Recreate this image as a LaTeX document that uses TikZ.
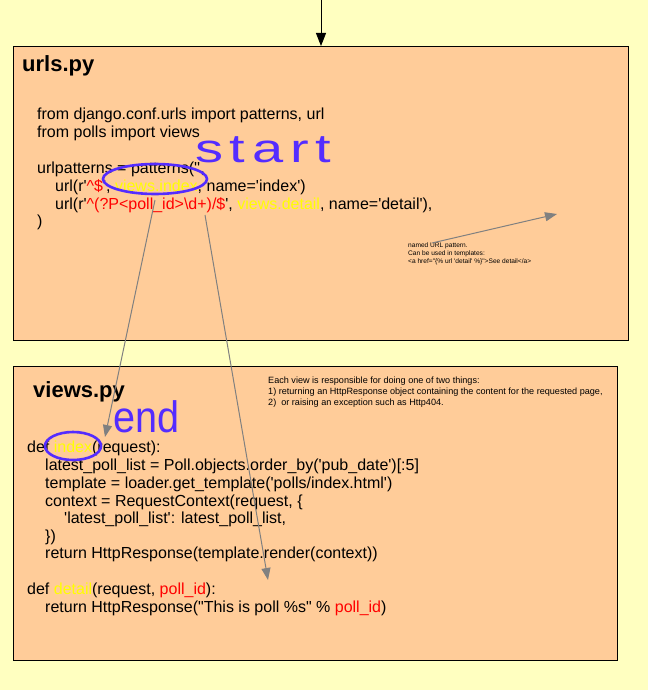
\documentclass[tikz,border=0pt]{standalone}
\usepackage{fontspec}
\usetikzlibrary{arrows.meta}
\newfontfamily\codefont{Liberation Sans}
\newfontfamily\inkfont{Liberation Sans}[LetterSpace=12]
\definecolor{paper}{RGB}{255,255,192}
\definecolor{peach}{RGB}{255,204,153}
\definecolor{codered}{RGB}{255,0,0}
\definecolor{codeyellow}{RGB}{255,255,0}
\definecolor{inkblue}{RGB}{84,44,255}
\newcommand{\rx}[1]{\textcolor{codered}{#1}}
\newcommand{\vw}[1]{\textcolor{codeyellow}{#1}}
\begin{document}
\begin{tikzpicture}[x=1pt,y=-1pt,
    filebox/.style={draw=black, fill=peach, line width=0.8pt, anchor=north west, inner sep=0pt},
    filetitle/.style={anchor=base west, inner sep=0pt, font=\codefont\bfseries\fontsize{22}{26}\selectfont},
    code/.style={anchor=base west, inner sep=0pt, font=\codefont\fontsize{16}{18}\selectfont},
    remark/.style={anchor=north west, inner sep=0pt, align=left, font=\codefont\fontsize{9.1}{11}\selectfont},
    tinyremark/.style={anchor=north west, inner sep=0pt, align=left, font=\codefont\fontsize{6.6}{8}\selectfont},
    scribble/.style={anchor=base west, inner sep=0pt, text=inkblue, font=\inkfont\fontsize{40}{40}\selectfont},
    loop/.style={draw=inkblue, line width=2.6pt},
    flow/.style={draw=black, line width=0.9pt, -{Triangle[length=13pt,width=10pt]}},
    link/.style={draw=gray, line width=1pt, -{Triangle[length=12pt,width=9pt]}}]
  \fill[paper] (0,0) rectangle (648,690);
  \useasboundingbox (0,0) rectangle (648,690);
  % boxes
  \node[filebox, minimum width=615pt, minimum height=294pt] (urls) at (13,46) {};
  \node[filebox, minimum width=604pt, minimum height=294pt] (views) at (13,366) {};
  \coordinate (entry) at (321,0);
  \draw[flow] (entry) -- (entry |- urls.north);
  % urls.py
  \node[filetitle] (urlstitle) at (22,72) {urls.py};
  \node[code] (u1) at (37,120) {from django.conf.urls import patterns, url};
  \node[code] (u2) at (37,137) {from polls import views};
  \node[code] (u3) at (37,173) {urlpatterns = patterns('',};
  \node[code] (u4) at (55,191) {url(r'\rx{\textasciicircum\$}', \vw{views.index}, name='index')};
  \node[code] (u5) at (55,209) {url(r'\rx{\textasciicircum(?P<poll\_id>\textbackslash d+)/\$}', \vw{views.detail}, name='detail'),};
  \node[code] (u6) at (37,226) {)};
  \node[tinyremark] (urlnote) at (408,243) {named URL pattern.\\Can be used in templates:\\<a href="\{\% url 'detail' \%\}">See detail</a>};
  % views.py
  \node[filetitle] (viewstitle) at (33,397) {views.py};
  \node[remark] (viewnote) at (268,376.5) {Each view is responsible for doing one of two things:\\1) returning an HttpResponse object containing the content for the requested page,\\2)\ \ or raising an exception such as Http404.};
  \node[code] (v1) at (27,452) {def \vw{index}(request):};
  \node[code] (v2) at (45,470) {latest\_poll\_list = Poll.objects.order\_by('pub\_date')[:5]};
  \node[code] (v3) at (45,488) {template = loader.get\_template('polls/index.html')};
  \node[code] (v4) at (45,506) {context = RequestContext(request, \{};
  \node[code] (v5) at (64,523) {'latest\_poll\_list': latest\_poll\_list,};
  \node[code] (v6) at (45,541) {\})};
  \node[code] (v7) at (45,558) {return HttpResponse(template.render(context))};
  \node[code] (v8) at (27,594) {def \vw{detail}(request, \rx{poll\_id}):};
  \node[code] (v9) at (45,612) {return HttpResponse("This is poll \%s" \% \rx{poll\_id})};
  % arrows
  \coordinate (indexsrc) at (155,200);
  \coordinate (indexdst) at (105,437);
  \coordinate (detailsrc) at (205,215);
  \coordinate (detaildst) at (268,580);
  \coordinate (notesrc) at (432,243);
  \coordinate (notedst) at (557,214);
  \draw[link] (indexsrc) -- (indexdst);
  \draw[link] (detailsrc) -- (detaildst);
  \draw[link] (notesrc) -- (notedst);
  % handwriting
  \draw[loop] (155,179) ellipse [x radius=52, y radius=15];
  \draw[loop] (73,446) ellipse [x radius=28, y radius=14];
  \node[scribble] (start) at (195,162) {\scalebox{1.4}[1]{start}};
  \node[scribble, font=\codefont\fontsize{44}{44}\selectfont] (end) at (113,432) {\scalebox{0.9}[1]{end}};
\end{tikzpicture}
\end{document}
